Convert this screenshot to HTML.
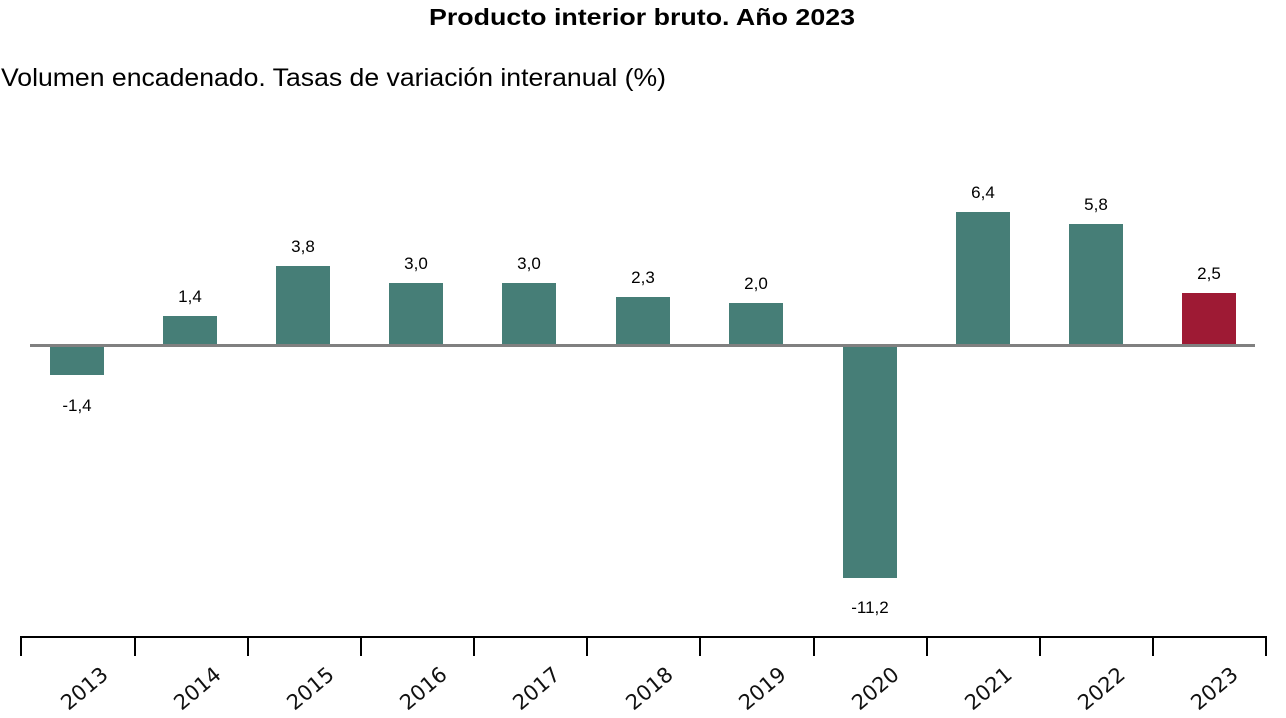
<!DOCTYPE html>
<html><head><meta charset="utf-8"><style>
html,body{margin:0;padding:0;background:#fff;}
svg{display:block;}
</style></head><body>
<svg width="1286" height="718" viewBox="0 0 1286 718" xmlns="http://www.w3.org/2000/svg">
<text x="642" y="25" text-anchor="middle" font-family="Liberation Sans, Arial, sans-serif" font-weight="bold" font-size="23" textLength="426" lengthAdjust="spacingAndGlyphs">Producto interior bruto. Año 2023</text>
<text x="1" y="86" font-family="Liberation Sans, Arial, sans-serif" font-size="25" textLength="665" lengthAdjust="spacingAndGlyphs">Volumen encadenado. Tasas de variación interanual (%)</text>
<g fill="#467e77">
<rect x="50" y="345" width="54" height="30"/>
<rect x="163" y="316" width="54" height="29"/>
<rect x="276" y="266" width="54" height="79"/>
<rect x="389" y="283" width="54" height="62"/>
<rect x="502" y="283" width="54" height="62"/>
<rect x="616" y="297" width="54" height="48"/>
<rect x="729" y="303" width="54" height="42"/>
<rect x="843" y="345" width="54" height="233"/>
<rect x="956" y="212" width="54" height="133"/>
<rect x="1069" y="224" width="54" height="121"/>
</g>
<rect x="1182" y="293" width="54" height="52" fill="#9e1a34"/>
<line x1="30" y1="345.5" x2="1255" y2="345.5" stroke="#808080" stroke-width="3"/>
<g font-family="Liberation Sans, Arial, sans-serif" font-size="17" text-anchor="middle" fill="#000">
<text x="77" y="411">-1,4</text>
<text x="190" y="302">1,4</text>
<text x="303" y="252">3,8</text>
<text x="416" y="269">3,0</text>
<text x="529" y="269">3,0</text>
<text x="643" y="283">2,3</text>
<text x="756" y="289">2,0</text>
<text x="870" y="613">-11,2</text>
<text x="983" y="198">6,4</text>
<text x="1096" y="210">5,8</text>
<text x="1209" y="279">2,5</text>
</g>
<path d="M21 656V637H1266V656 M135 637V656 M248 637V656 M361 637V656 M474 637V656 M587 637V656 M700 637V656 M814 637V656 M927 637V656 M1040 637V656 M1153 637V656" fill="none" stroke="#000" stroke-width="2"/>
<g font-family="DejaVu Sans, Liberation Sans, sans-serif" font-size="21" text-anchor="middle" fill="#111">
<text transform="translate(89,694) rotate(-40)">2013</text>
<text transform="translate(202,694) rotate(-40)">2014</text>
<text transform="translate(315,694) rotate(-40)">2015</text>
<text transform="translate(428,694) rotate(-40)">2016</text>
<text transform="translate(541,694) rotate(-40)">2017</text>
<text transform="translate(654,694) rotate(-40)">2018</text>
<text transform="translate(767,694) rotate(-40)">2019</text>
<text transform="translate(880,694) rotate(-40)">2020</text>
<text transform="translate(993,694) rotate(-40)">2021</text>
<text transform="translate(1106,694) rotate(-40)">2022</text>
<text transform="translate(1219,694) rotate(-40)">2023</text>
</g>
</svg>
</body></html>
